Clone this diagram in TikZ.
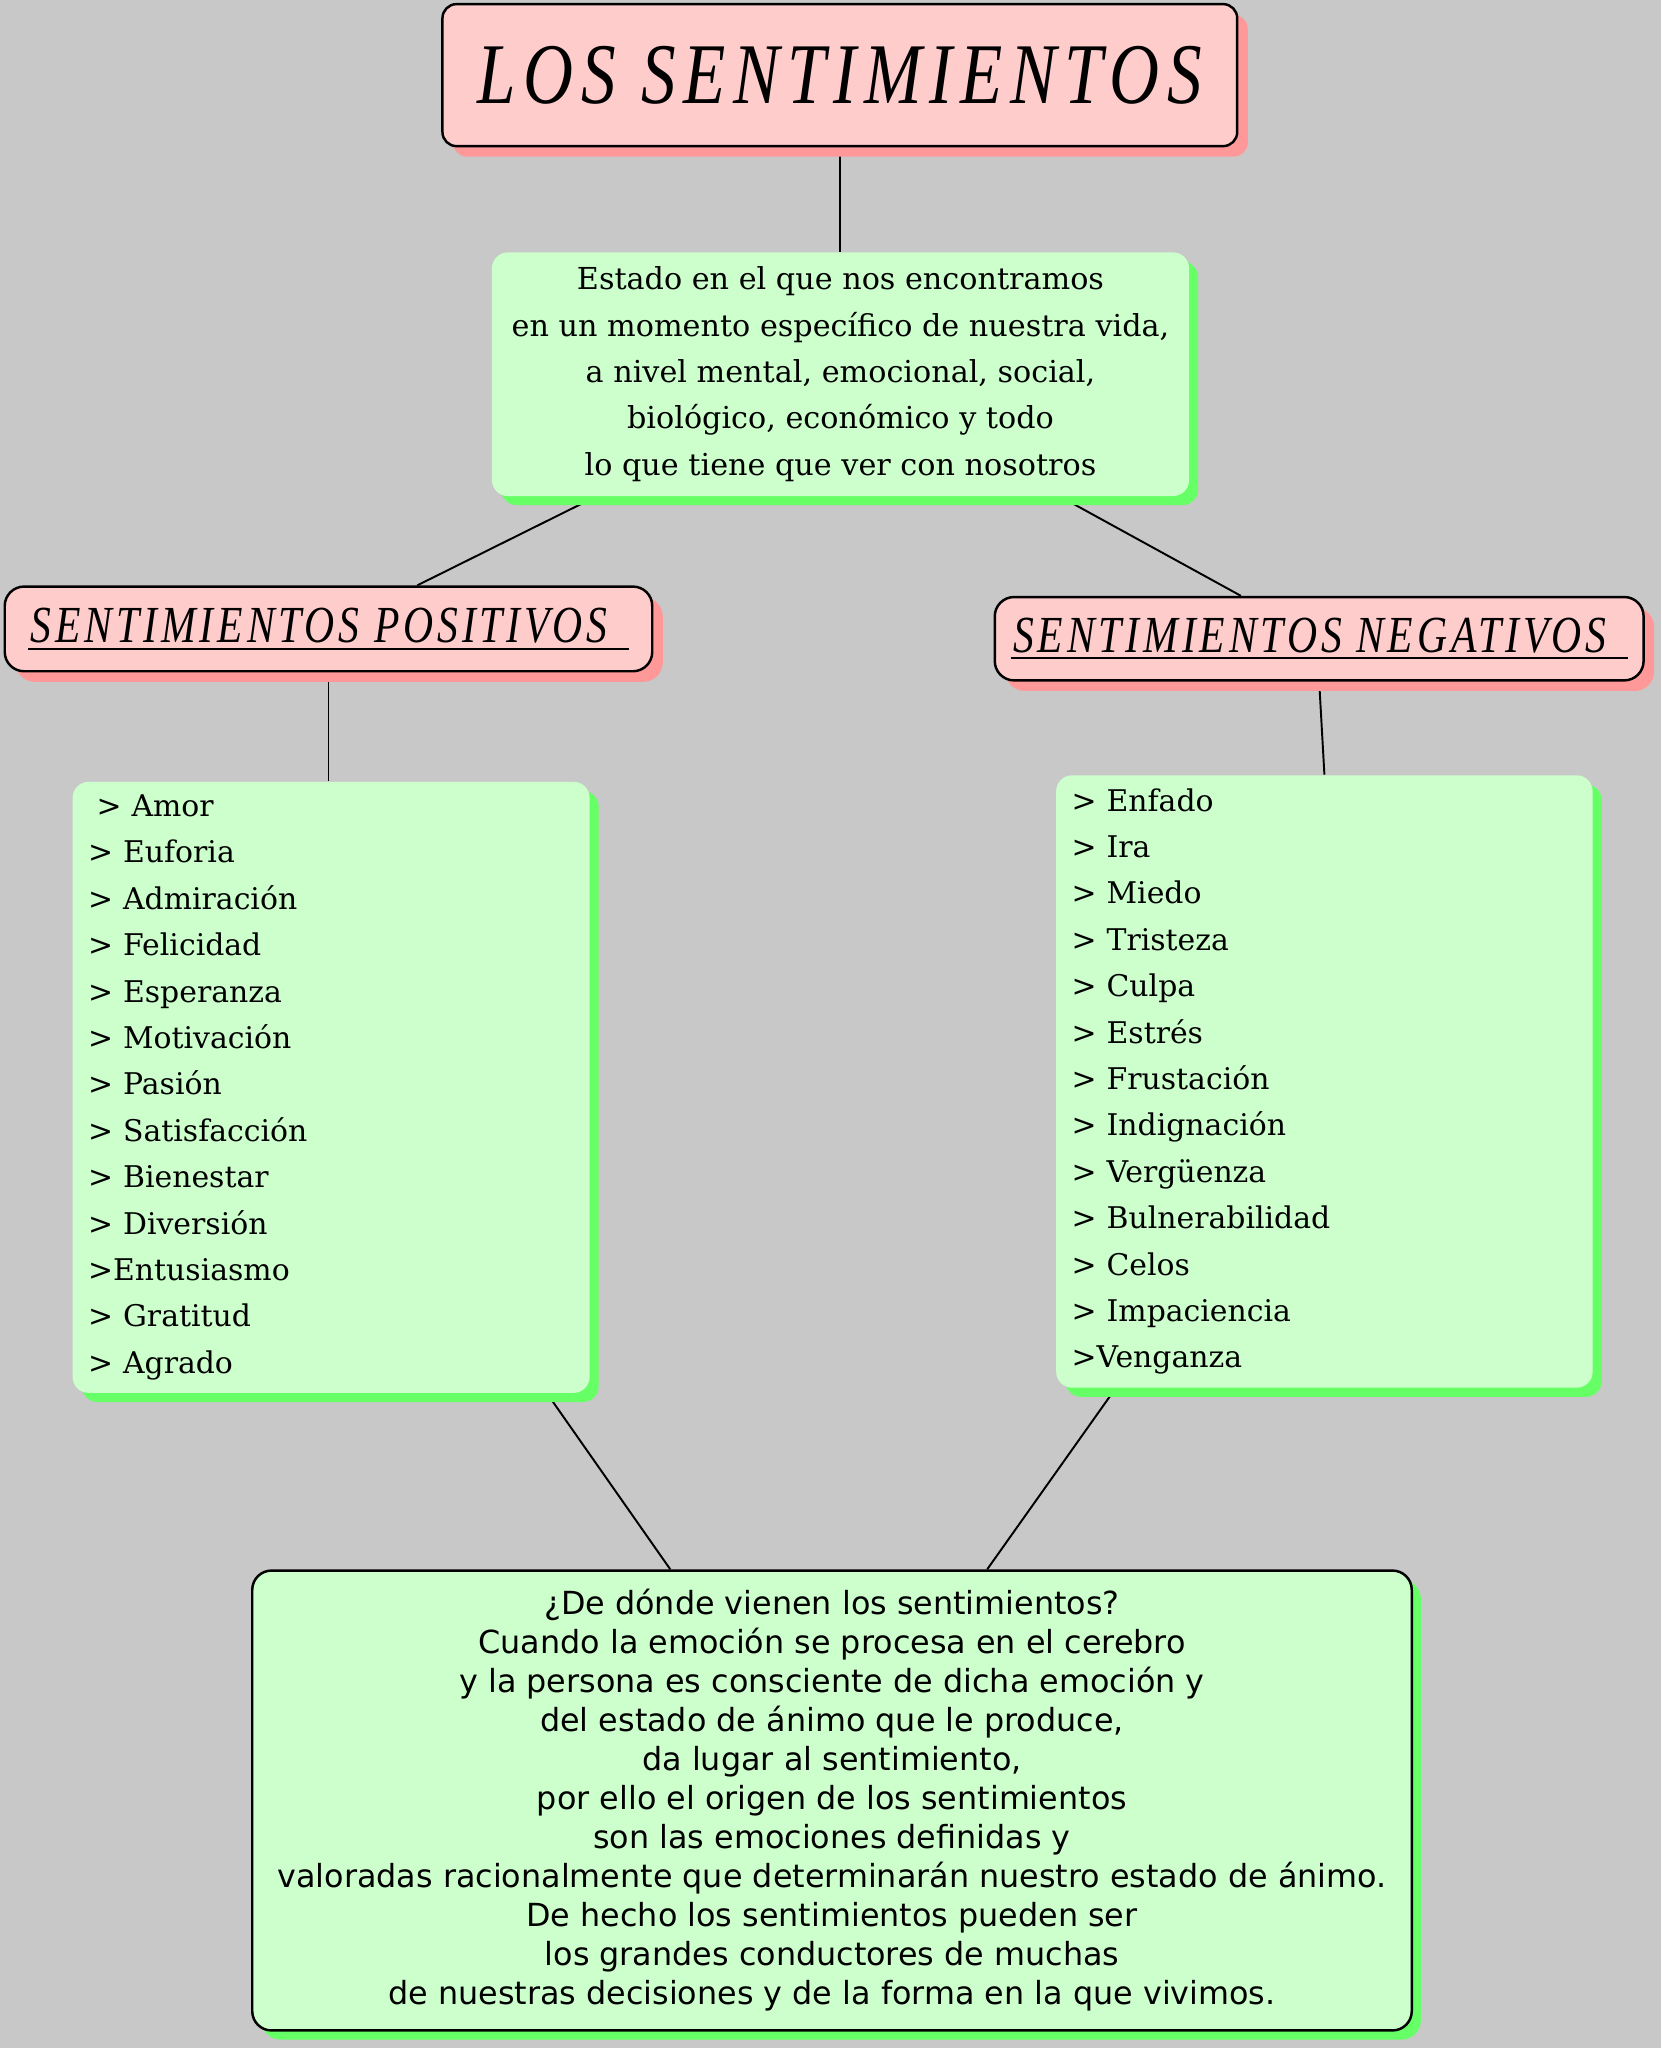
\documentclass[tikz,border=0pt]{standalone}
\usepackage{fontspec}
\setmainfont{DejaVu Serif}
\newfontfamily\titlefont[FakeStretch=0.8,LetterSpace=9]{Liberation Serif}
\newfontfamily\headfont[FakeStretch=0.8,LetterSpace=7.5]{Liberation Serif}
\newfontfamily\sansbody{DejaVu Sans}
\usetikzlibrary{shadows,backgrounds,calc}

\definecolor{bggray}{HTML}{C8C8C8}
\definecolor{pinkfill}{HTML}{FFCCCC}
\definecolor{pinkshade}{HTML}{FF9999}
\definecolor{greenfill}{HTML}{CCFFCC}
\definecolor{greenshade}{HTML}{66FF66}
\def\pxu{0.3707}
% underline with a heavier rule
\newcommand\headline[1]{\setbox0\hbox{#1}%
  \rlap{\rule[-2pt]{\wd0}{0.6pt}}\box0}

\tikzset{
  pinkbox/.style={draw, line width=0.7pt, fill=pinkfill, rounded corners=4pt,
    drop shadow={shadow xshift=3pt, shadow yshift=-3pt, fill=pinkshade, opacity=1}},
  greenbox/.style={fill=greenfill, rounded corners=4.5pt,
    drop shadow={shadow xshift=2.6pt, shadow yshift=-2.6pt, fill=greenshade, opacity=1}},
  listbox/.style={greenbox, align=left, inner xsep=4.4pt,
    font={\fontsize{8.5}{13.2}\selectfont}},
  headbox/.style={pinkbox, rounded corners=5.5pt, inner sep=0pt,
    font={\headfont\itshape\fontsize{14.8}{18}\selectfont}},
  link/.style={line width=0.55pt},
}

\begin{document}
\begin{tikzpicture}[x=0.013066cm, y=-0.013066cm]
  \useasboundingbox (0,0) rectangle (1272,1568);

  %-----------------------------
  % Title and definition
  \node[pinkbox, minimum width={610*\pxu pt}, minimum height={109*\pxu pt},
        font={\titlefont\itshape\fontsize{24.6}{28}\selectfont}]
        (title) at (643,57.5) {LOS SENTIMIENTOS};

  \node[greenbox, minimum width={535*\pxu pt}, minimum height={187*\pxu pt},
        align=center, font={\fontsize{8.6}{13.2}\selectfont}]
        (defn) at (643.5,286.5)
        {Estado en el que nos encontramos\\
         en un momento específico de nuestra vida,\\
         a nivel mental, emocional, social,\\
         biológico, económico y todo\\
         lo que tiene que ver con nosotros};

  %-----------------------------
  % The two kinds
  \node[headbox, minimum width={497*\pxu pt}, minimum height={65*\pxu pt}]
        (pos) at (251.5,481.5)
        {\headline{\hspace{0.7pt}SENTIMIENTOS POSITIVOS\hspace{6pt}}};
  \node[headbox, minimum width={498*\pxu pt}, minimum height={64*\pxu pt}]
        (neg) at (1010,489)
        {\headline{\hspace{0.7pt}SENTIMIENTOS NEGATIVOS\hspace{6pt}}};

  %-----------------------------
  % Lists
  \node[listbox, text width={(397-24)*\pxu pt}, minimum height={469*\pxu pt}]
        (poslist) at (253.5,832.5)
        {\hspace{2.4pt}> Amor\\
         > Euforia\\
         > Admiración\\
         > Felicidad\\
         > Esperanza\\
         > Motivación\\
         > Pasión\\
         > Satisfacción\\
         > Bienestar\\
         > Diversión\\
         >Entusiasmo\\
         > Gratitud\\
         > Agrado};

  \node[listbox, text width={(412-24)*\pxu pt}, minimum height={470*\pxu pt}]
        (neglist) at (1014,828)
        {> Enfado\\
         > Ira\\
         > Miedo\\
         > Tristeza\\
         > Culpa\\
         > Estrés\\
         > Frustación\\
         > Indignación\\
         > Vergüenza\\
         > Bulnerabilidad\\
         > Celos\\
         > Impaciencia\\
         >Venganza};

  %-----------------------------
  % Where they come from
  \node[greenbox, draw, line width=0.7pt, rounded corners=5.5pt,
        minimum width={890*\pxu pt}, minimum height={353*\pxu pt},
        align=center, font={\sansbody\fontsize{9.05}{11.1}\selectfont}]
        (origin) at (637,1378.5)
        {¿De dónde vienen los sentimientos?\\
         Cuando la emoción se procesa en el cerebro\\
         y la persona es consciente de dicha emoción y\\
         del estado de ánimo que le produce,\\
         da lugar al sentimiento,\\
         por ello el origen de los sentimientos\\
         son las emociones definidas y\\
         valoradas racionalmente que determinarán nuestro estado de ánimo.\\
         De hecho los sentimientos pueden ser\\
         los grandes conductores de muchas\\
         de nuestras decisiones y de la forma en la que vivimos.};

  %-----------------------------
  % Connectors, behind the boxes and their shadows
  \begin{pgfonlayer}{background}
    \fill[bggray] (0,0) rectangle (1272,1568);
    \draw[link] (title.south) -- (title.south |- defn.north);
    \draw[link] ($(defn.south west)+(80,0)$) -- ($(pos.north)+(68,0)$);
    \draw[link] ($(defn.south east)+(-99,0)$) -- ($(neg.north)+(-60,0)$);
    \draw[link] (pos.south) -- (pos.south |- poslist.north);
    \draw[link] (neg.south) -- (neglist.north);
    \draw[link] ($(poslist.south east)+(-33,0)$) -- ($(origin.north west)+(321,0)$);
    \draw[link] ($(neglist.south west)+(46,0)$) -- ($(origin.north east)+(-326,0)$);
  \end{pgfonlayer}
\end{tikzpicture}
\end{document}
